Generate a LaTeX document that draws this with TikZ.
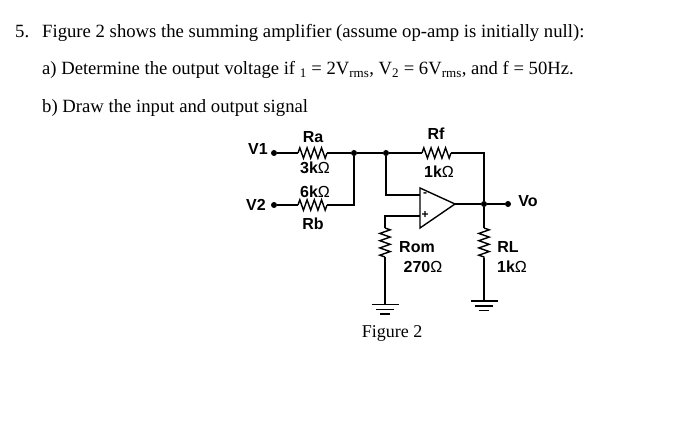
\documentclass[tikz,border=0pt]{standalone}
\usepackage{fontspec}
\setmainfont{Liberation Serif}
\setsansfont{Liberation Sans}
\usetikzlibrary{decorations.pathmorphing}
\newcommand{\ohm}{{\mdseries Ω}}
\tikzset{
  aufgabe/.style={anchor=base west,inner sep=0pt,font=\fontsize{18.7}{22}\selectfont},
  bauteil/.style={inner sep=0pt,font=\fontsize{16}{18}\selectfont\sffamily\bfseries},
  draht/.style={line width=1.4pt,line join=miter},
  % Widerstand als Zickzack zwischen zwei Koordinaten:
  widerstand/.style={draht,decorate,decoration={zigzag,segment length=7.25pt,amplitude=5.2pt}},
  punkt/.style={circle,fill,inner sep=0pt,minimum size=6pt},
  erde/.style={line width=1.5pt},
  vorzeichen/.style={inner sep=0pt,font=\fontsize{12}{12}\selectfont\bfseries\sffamily}
}
\begin{document}
\begin{tikzpicture}[x=1pt,y=-1pt]
\useasboundingbox (0,0) rectangle (700,433);
% Aufgabentext
  \node[aufgabe] (nr) at (15,38) {5.};
  \node[aufgabe] (zeile1) at (42,38) {Figure 2 shows the summing amplifier (assume op-amp is initially null):};
  \node[aufgabe,xscale=.996] (zeile2) at (42,75) {a) Determine the output voltage if \textsubscript{1} = 2V\textsubscript{rms}, V\textsubscript{2} = 6V\textsubscript{rms}, and f = 50Hz.};
  \node[aufgabe] (zeile3) at (42,112) {b) Draw the input and output signal};
  \node[aufgabe,anchor=center,font=\fontsize{18}{20}\selectfont] (fig) at (392,333) {Figure 2};
% Punkte
  \node[punkt] (v1) at (274,153) {};
  \node[punkt] (v2) at (274,205) {};
  \node[punkt] (k1) at (354,153) {};
  \node[punkt] (k2) at (386,153) {};
  \node[punkt] (k3) at (484,204) {};
  \node[punkt] (vo) at (508,204) {};
% Anschluesse der Widerstaende
  \coordinate (ra1) at (298,153);  \coordinate (ra2) at (327,153);
  \coordinate (rb1) at (298,205);  \coordinate (rb2) at (327,205);
  \coordinate (rf1) at (422,153);  \coordinate (rf2) at (451,153);
  \coordinate (rm1) at (385,228);  \coordinate (rm2) at (385,257);
  \coordinate (rl1) at (484,228);  \coordinate (rl2) at (484,258);
% Operationsverstaerker
  \coordinate (opo) at (420,188);
  \coordinate (opu) at (420,228);
  \coordinate (opa) at (455,204);
  \coordinate (minus) at (420,195);
  \coordinate (plus) at (420,216);
  \draw[draht] (opo) -- (opa) -- (opu) -- cycle;
  \node[vorzeichen] (m) at (425,194.5) {-};
  \node[vorzeichen] (p) at (425,215) {+};
% Widerstaende
  \foreach \a/\b in {ra1/ra2,rb1/rb2,rf1/rf2,rm1/rm2,rl1/rl2}
    \draw[widerstand] (\a) -- (\b);
% Verbindungen einzeichnen
  \draw[draht] (v1) -- (ra1) (ra2) -- (k1) -- (k2) -- (rf1);
  \draw[draht] (v2) -- (rb1) (rb2) -- (rb2-|k1) -- (k1);
  \draw[draht] (k2) |- (minus);
  \draw[draht] (rf2) -| (k3);
  \draw[draht] (opa) -- (k3) -- (vo);
  \draw[draht] (k3) -- (rl1);
  \draw[draht] (plus) -| (rm1);
% Masse
  \coordinate (gm) at (385,304.5);
  \coordinate (gl) at (484,301);
  \draw[draht] (rm2) -- (gm);
  \draw[draht] (rl2) -- (gl);
  \foreach \g in {gm,gl}{
    \draw[erde] ([xshift=-13.5pt]\g) -- ([xshift=13.5pt]\g);
    \draw[erde] ([xshift=-9pt,yshift=-5pt]\g) -- ([xshift=9pt,yshift=-5pt]\g);
    \draw[erde] ([xshift=-5pt,yshift=-9.5pt]\g) -- ([xshift=5pt,yshift=-9.5pt]\g);
  }
% Beschriftung
  \foreach \n/\x/\y/\t in {lv1/258/149/V1,lv2/256/205/V2,lra/313/137/Ra,lrb/313/224/Rb,
      lrf/436/134/Rf,lvo/528/201/Vo,lrm/417/247/Rom,lrl/508/247/RL,
      lra2/315/168/3k\ohm,lrb2/315/192/6k\ohm,lrf2/439/172/1k\ohm,
      lrm2/423/267/270\ohm,lrl2/512/267/1k\ohm}
    \node[bauteil] (\n) at (\x,\y) {\t};
\end{tikzpicture}
\end{document}
